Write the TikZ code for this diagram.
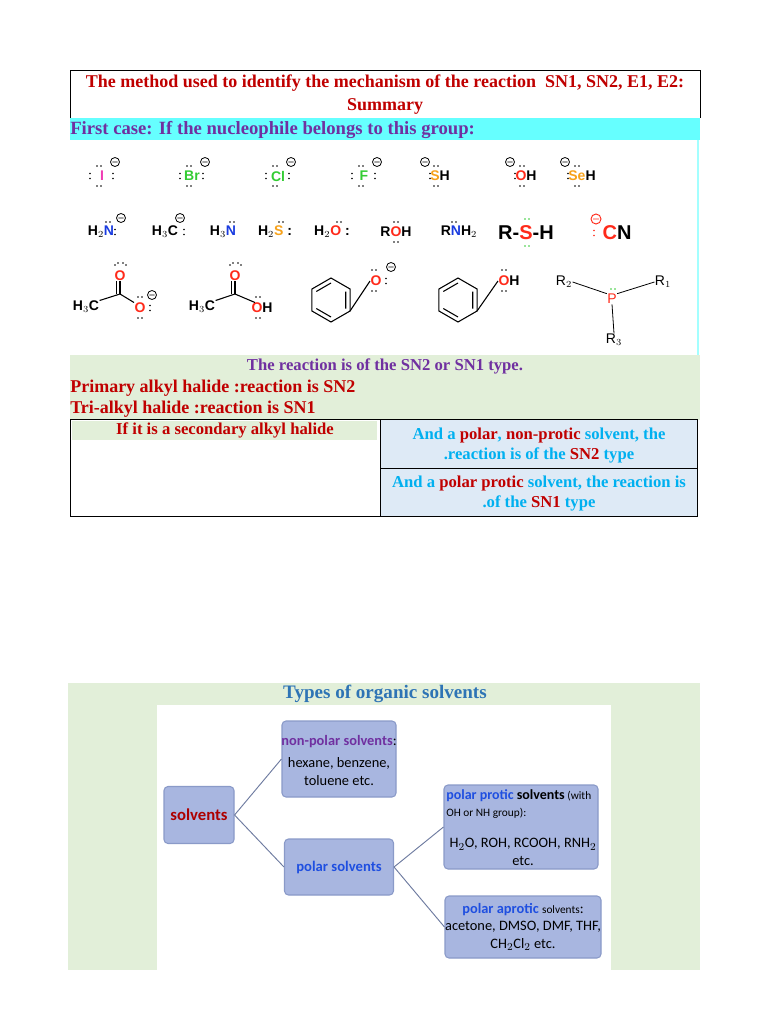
\documentclass[tikz,border=0pt]{standalone}
\usetikzlibrary{calc}
\usepackage{fontspec}
\setmainfont{Liberation Serif}
\newfontfamily\chem{Liberation Sans}
\newfontfamily\sol{Carlito}
\definecolor{tred}{HTML}{C00000}
\definecolor{tpur}{HTML}{7030A0}
\definecolor{tcyan}{HTML}{66FFFF}
\definecolor{tgreen}{HTML}{E2EFD9}
\definecolor{tblue}{HTML}{DEEAF6}
\definecolor{tsky}{HTML}{00B0F0}
\definecolor{cgreen}{HTML}{33CC33}
\definecolor{corange}{HTML}{F7A21B}
\definecolor{cred}{HTML}{FF2A1A}
\definecolor{cblue}{HTML}{1A3CE0}
\definecolor{cpink}{HTML}{F03CB4}
\definecolor{ttitle}{HTML}{2E74B5}
\definecolor{bfill}{HTML}{A8B6E0}
\definecolor{bdraw}{HTML}{8A9AC8}
\definecolor{lsolv}{HTML}{1F4FE0}
\begin{document}
\begin{tikzpicture}[x=0.75pt,y=-0.75pt,
  ser/.style={font=\fontsize{12.5}{14}\selectfont\bfseries,inner sep=0pt},
  ch/.style={font=\fontsize{10.5}{11}\selectfont\chem\bfseries,inner sep=0pt},
  sbox/.style={draw=bdraw,fill=bfill,rounded corners=3pt,line width=0.8pt},
  sline/.style={draw=bdraw!80!black,line width=0.7pt},
  st/.style={font=\fontsize{10.8}{13}\selectfont\sol,align=center,inner sep=0pt}]
\useasboundingbox (0,0) rectangle (768,1024);
\fill[white] (0,0) rectangle (768,1024);
\newcommand\mcirc[2]{\draw[line width=0.6pt] (#1,#2) circle (4.5) (#1-2.6,#2)--(#1+2.6,#2);}
\newcommand\hp[2]{\fill (#1-2,#2) circle (0.9) (#1+2,#2) circle (0.9);}
\newcommand\vp[2]{\fill (#1,#2-2.5) circle (0.9) (#1,#2+2.5) circle (0.9);}
% title
\draw[line width=0.6pt] (70,118) -- (70,70) -- (700,70) -- (700,118);
\node[ser,text=tred,font=\fontsize{13.5}{15}\selectfont\bfseries] (t1) at (385,83) {The method used to identify the mechanism of the reaction\ \ SN1, SN2, E1, E2:};
\node[ser,text=tred,font=\fontsize{13.5}{15}\selectfont\bfseries] (t2) at (385,106) {Summary};
\fill[tcyan] (70,118) rectangle (700,140);
\node[ser,text=tpur,anchor=west,font=\fontsize{14}{16}\selectfont\bfseries] (fc) at (70,130) {First case: If the nucleophile belongs to this group:};
\draw[tcyan!60,line width=1pt] (698,140) -- (698,355);
% row 1 halides
\foreach \x/\t/\c [count=\i] in {102/I/cpink,192/Br/cgreen,278/Cl/cgreen,364/F/cgreen}{
  \node[ch,text=\c] (h\i) at (\x,176) {\t};
  \vp{\x-12}{176} \vp{\x+11}{176} \hp{\x-3}{166} \hp{\x-3}{186}
  \mcirc{\x+13}{162}
}
\node[ch] (sh) at (440,176) {\textcolor{corange}{S}H};
\vp{430}{176} \hp{436}{166} \hp{436}{186} \mcirc{425}{162}
\node[ch] (oh) at (526,176) {\textcolor{cred}{O}H};
\vp{515}{176} \hp{522}{166} \hp{522}{186} \mcirc{510}{162}
\node[ch] (seh) at (582,176) {\textcolor{corange}{Se}H};
\vp{568}{176} \hp{577}{166} \hp{577}{186} \mcirc{565}{162}
% row 2
\node[ch] (r1) at (101,232) {H$_2$\textcolor{cblue}{N}}; \vp{115}{232} \hp{108}{222} \mcirc{121}{218}
\node[ch] (r2) at (165,232) {H$_3$C}; \vp{184}{232} \mcirc{180}{218}
\node[ch] (r3) at (223,232) {H$_3$\textcolor{cblue}{N}}; \hp{232}{222}
\node[ch] (r4) at (275,232) {H$_2$\textcolor{corange}{S}\ :}; \hp{281}{222}
\node[ch] (r5) at (332,232) {H$_2$\textcolor{cred}{O}\ :}; \hp{339}{222}
\node[ch] (r6) at (396,232) {R\textcolor{cred}{O}H}; \hp{396}{222} \hp{396}{242}
\node[ch] (r7) at (459,232) {R\textcolor{cblue}{N}H$_2$}; \hp{454}{222}
\node[ch,font=\fontsize{15}{17}\selectfont\chem\bfseries] (r8) at (526,233) {R-\textcolor{cred}{S}-H};
\begin{scope}[cgreen]\hp{527}{219} \hp{527}{246}\end{scope}
\node[ch,font=\fontsize{15}{17}\selectfont\chem\bfseries] (r9) at (617,233) {\textcolor{cred}{C}N};
\begin{scope}[cred]\vp{594}{233}\draw[line width=0.7pt] (596,219) circle (5) (593,219)--(599,219);\end{scope}
% row 3: acetate
\begin{scope}[line width=0.8pt]
\node[ch] (a1) at (86,307) {H$_3$C};
\node[ch,text=cred] (a2) at (120,276) {O};
\node[ch,text=cred] (a3) at (140,308) {O};
\coordinate (ac) at (120,294);
\draw (a1.north east) -- (ac) -- (a3.north west);
\draw (ac) -- (a2.south) ([xshift=-2.5]ac) -- ([xshift=-2.5]a2.south);
\fill (115,265) circle (0.9) (118,263) circle (0.9) (123,263) circle (0.9) (126,265) circle (0.9);
\hp{140}{297} \hp{140}{318} \vp{150}{308} \mcirc{152}{295}
% acetic acid
\node[ch] (b1) at (202,307) {H$_3$C};
\node[ch,text=cred] (b2) at (235,276) {O};
\node[ch] (b3) at (262,308) {\textcolor{cred}{O}H};
\coordinate (bc) at (235,294);
\draw (b1.north east) -- (bc) -- ([xshift=3]b3.north west);
\draw (bc) -- (b2.south) ([xshift=-2.5]bc) -- ([xshift=-2.5]b2.south);
\fill (230,265) circle (0.9) (233,263) circle (0.9) (238,263) circle (0.9) (241,265) circle (0.9);
\hp{258}{297} \hp{258}{318}
% phenoxide
\draw (331,300) +(90:22) -- +(30:22) -- +(-30:22) -- +(-90:22) -- +(-150:22) -- +(150:22) -- cycle;
\draw (331,300) +(150:17) -- +(90:17) +(30:17) -- +(-30:17) +(-90:17) -- +(-150:17);
\node[ch,text=cred] (p1) at (376,281) {O};
\draw ($(331,300)+(30:22)$) -- (p1.west);
\hp{374}{270} \hp{374}{291} \vp{386}{281} \mcirc{391}{267}
% phenol
\draw (458,300) +(90:22) -- +(30:22) -- +(-30:22) -- +(-90:22) -- +(-150:22) -- +(150:22) -- cycle;
\draw (458,300) +(150:17) -- +(90:17) +(30:17) -- +(-30:17) +(-90:17) -- +(-150:17);
\node[ch] (p2) at (509,281) {\textcolor{cred}{O}H};
\draw ($(458,300)+(30:22)$) -- (p2.west);
\hp{504}{270} \hp{504}{291}
% phosphine
\node[ch,font=\fontsize{10.5}{11}\selectfont\chem] (q0) at (612,299) {\textcolor{cred}{P}};
\node[ch,font=\fontsize{10.5}{11}\selectfont\chem] (q1) at (663,282) {R$_1$};
\node[ch,font=\fontsize{10.5}{11}\selectfont\chem] (q2) at (564,282) {R$_2$};
\node[ch,font=\fontsize{10.5}{11}\selectfont\chem] (q3) at (614,340) {R$_3$};
\draw[line width=0.6pt] (q2.east) -- (q0.north west) (q0.north east) -- (q1.west) (q0.south) -- (q3.north);
\begin{scope}[cgreen]\hp{613}{289}\end{scope}
\end{scope}
% green region
\fill[tgreen] (70,355) rectangle (700,420);
\node[ser,text=tpur] (g1) at (385,366) {The reaction is of the SN2 or SN1 type.};
\node[ser,text=tred,anchor=west,font=\fontsize{13.5}{15}\selectfont\bfseries] (g2) at (70,388) {Primary alkyl halide :reaction is SN2};
\node[ser,text=tred,anchor=west,font=\fontsize{13.5}{15}\selectfont\bfseries] (g3) at (70,409) {Tri-alkyl halide :reaction is SN1};
% table
\fill[tblue] (380,419) rectangle (697,516);
\fill[tgreen] (72,421) rectangle (377,440);
\draw[line width=0.6pt] (70,419) rectangle (697,516) (380,419) -- (380,516) (380,468) -- (697,468);
\node[ser,text=tred] (c1) at (225,430) {If it is a secondary alkyl halide};
\node[ser,text=tsky,align=center,font=\fontsize{12.5}{15}\selectfont\bfseries] (c2) at (539,446) {And a \textcolor{tred}{polar}, \textcolor{tred}{non-protic} solvent, the\\.reaction is of the \textcolor{tred}{SN2} type};
\node[ser,text=tsky,align=center,font=\fontsize{12.5}{15}\selectfont\bfseries] (c3) at (539,494) {And a \textcolor{tred}{polar protic} solvent, the reaction is\\.of the \textcolor{tred}{SN1} type};
% solvents
\fill[tgreen] (68,683) rectangle (700,970);
\node[ser,text=ttitle,font=\fontsize{14.3}{16}\selectfont\bfseries] (st) at (385,694) {Types of organic solvents};
\fill[white] (157,705) rectangle (611,970);
\node[sbox,minimum width=52.5pt,minimum height=42.75pt] (s0) at (199,815) {};
\node[st,text=tred!90!black,font=\fontsize{12.5}{14}\selectfont\sol\bfseries] at (s0) {solvents};
\node[sbox,minimum width=85.5pt,minimum height=57pt] (s1) at (339,759) {};
\node[st] at (339,760) {{\bfseries\textcolor{tpur}{non-polar solvents}}:\\[4pt]hexane, benzene,\\toluene etc.};
\node[sbox,minimum width=81.75pt,minimum height=42pt] (s2) at (339,867) {};
\node[st,text=lsolv,font=\fontsize{11}{13}\selectfont\sol\bfseries] at (s2) {polar solvents};
\node[sbox,minimum width=115.5pt,minimum height=63pt] (s3) at (521,827) {};
\node[st,align=left,font=\fontsize{8.5}{13}\selectfont\sol,anchor=north west] at (446,789) {{\fontsize{10.5}{13}\selectfont\bfseries\textcolor{lsolv}{polar protic} solvents} (with\\OH or NH group):};
\node[st] at (523,852) {H$_2$O, ROH, RCOOH, RNH$_2$\\etc.};
\node[sbox,minimum width=117pt,minimum height=46.5pt] (s4) at (523,927) {};
\node[st] at (523,927) {{\bfseries\textcolor{lsolv}{polar aprotic}} {\fontsize{8.5}{10}\selectfont solvents}:\\acetone, DMSO, DMF, THF,\\CH$_2$Cl$_2$ etc.};
\draw[sline] (s0.east) -- (s1.west) (s0.east) -- (s2.west) (s2.east) -- (s3.west) (s2.east) -- (s4.west);
\end{tikzpicture}
\end{document}
